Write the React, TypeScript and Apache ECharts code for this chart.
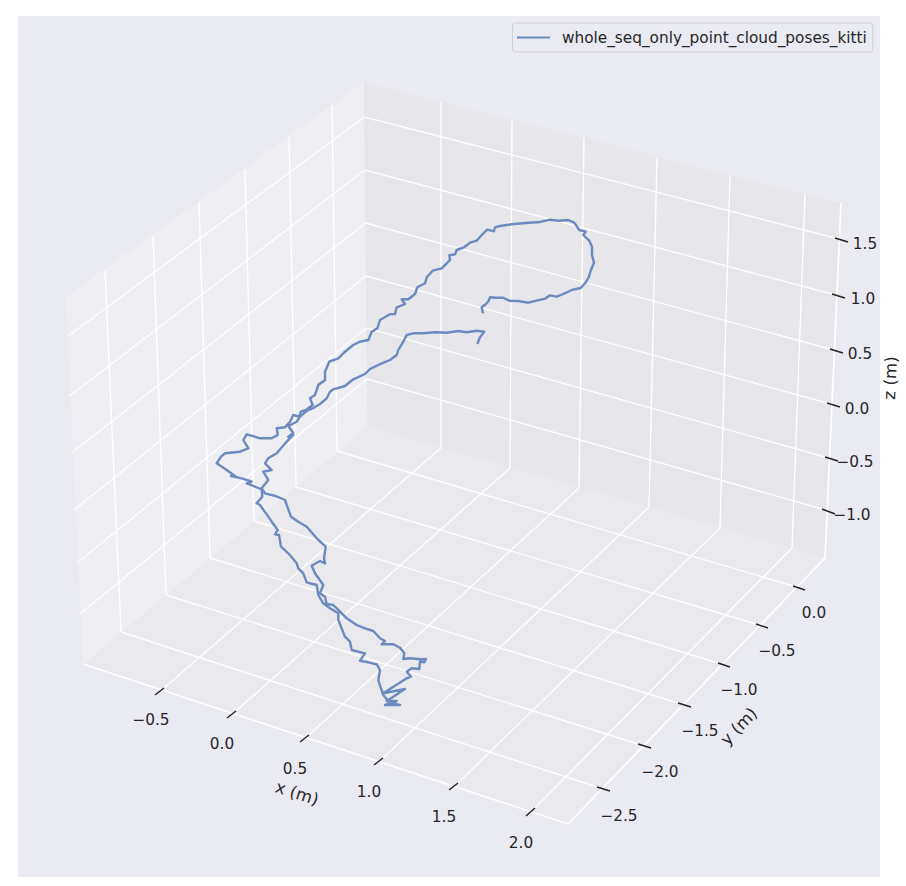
import React, { useEffect, useRef } from "react";
import * as echarts from "echarts";

const seriesName = "whole_seq_only_point_cloud_poses_kitti";

// Box of the 3D view, in the projected plane of the picture
const paneLeft = [[66, 297], [364, 82], [367.5, 427], [83, 664]];
const paneRight = [[364, 82], [841, 203], [825, 558], [367.5, 427]];
const paneFloor = [[83, 664], [367.5, 427], [825, 558], [568, 824]];

// x0, y0, x1, y1
const axisEdges = [
  [83, 664, 568, 824],
  [568, 824, 825, 558],
  [825, 558, 841, 203],
];
const xGrid = [
  [164, 688, 441, 448, 441, 448, 441, 101],
  [236, 711, 510, 468, 510, 468, 512, 120],
  [309, 735, 579, 488, 579, 488, 584, 138],
  [383, 758, 649, 507, 649, 507, 657, 157],
  [458, 783, 720, 528, 720, 528, 730, 175],
  [535, 808, 792, 548, 792, 548, 805, 194],
];
const yGrid = [
  [793, 586, 337, 451, 337, 451, 332, 105],
  [756, 624, 296, 487, 296, 487, 289, 137],
  [718, 663, 254, 521, 254, 521, 245, 169],
  [678, 703, 210, 558, 210, 558, 199, 202],
  [638, 744, 166, 595, 166, 595, 153, 236],
  [597, 787, 121, 632, 121, 632, 105, 271],
];
const zGrid = [
  [68, 336, 364.4, 117, 364.4, 117, 835, 238],
  [69.5, 396, 364.8, 170, 364.8, 170, 832, 294],
  [71.5, 453, 365.4, 223, 365.4, 223, 830, 349],
  [74, 510, 366, 276, 366, 276, 827, 403],
  [77, 563, 366.5, 328, 366.5, 328, 825, 457],
  [80, 614, 367, 379, 367, 379, 822, 509],
];
const xTicks = [
  [155, 695, 164, 688],
  [227, 718, 236, 711],
  [300, 742, 309, 735],
  [374, 765, 383, 758],
  [449, 790, 458, 783],
  [526, 816, 535, 808],
];
const yTicks = [
  [793, 586, 805, 590],
  [756, 624, 768, 628],
  [718, 663, 730, 667],
  [678, 703, 691, 707],
  [638, 744, 651, 748],
  [597, 787, 610, 791],
];
const zTicks = [
  [835, 238, 848, 242],
  [832, 294, 845, 298],
  [830, 349, 843, 353],
  [827, 403, 840, 407],
  [825, 457, 838, 461],
  [822, 509, 835, 514],
];

const tickLabelText = [
  "−0.5", "0.0", "0.5", "1.0", "1.5", "2.0",
  "0.0", "−0.5", "−1.0", "−1.5", "−2.0", "−2.5",
  "1.5", "1.0", "0.5", "0.0", "−0.5", "−1.0",
];
const tickLabelPos = [
  [151, 719.5], [222, 743.5], [295, 768.5], [369, 791.5], [444, 816.5], [521, 842.5],
  [814, 612.5], [777, 650.5], [739, 689.5], [700, 730.5], [660, 771.5], [619, 815.5],
  [865, 243.5], [863, 298.5], [860, 353.5], [857, 408.5], [855, 461.5], [852, 514.5],
];
const axisTitleText = ["x (m)", "y (m)", "z (m)"];
const axisTitlePos = [[297, 793.5], [739, 726.5], [890.5, 378]];
const axisTitleAngle = [-18, 46, 87.5];

// Trajectory
const strandDown = [
  [477.3, 344], [480, 337.3], [484.3, 331.7], [476.7, 330.7], [466.7, 332.3], [458.3, 331], [446.7, 332.7],
  [435, 332.3], [423.3, 333.3], [413.3, 333.3], [406.7, 335], [403.3, 341.7], [398.3, 350], [396.7, 355],
  [390, 360], [381.7, 363.3], [370, 369], [365, 374], [353.3, 379.3], [345, 386], [333.3, 389.3], [330, 391.7],
  [326.7, 398.3], [320, 404], [313.3, 408], [306.7, 411], [300, 416.7], [296.7, 421.7], [288.3, 426],
  [293.3, 433], [288.3, 436.7], [293.3, 435], [286.7, 441.7], [276.7, 453.3], [268.3, 458.3], [265, 463.3],
  [271.7, 470], [263.3, 471.7], [268.3, 480], [261.7, 488.3], [265, 493.3], [275.7, 496], [285, 500],
  [286.7, 505], [291, 516.7], [298.3, 521.7], [306.7, 526.7], [316.7, 538.3], [325.7, 546.7], [324, 558.3],
  [325, 563.3], [320, 561], [311.7, 565.7], [315, 573.3], [323.3, 585], [320, 593.3], [325, 596.7],
  [326.7, 604], [333.3, 605], [340, 611.7], [346.7, 618.3], [356.7, 625], [365, 628.3], [373.3, 631],
  [380, 638.3], [385, 641], [381.7, 644.3], [393.3, 644.3], [400, 647.7], [404.3, 653.3], [403.3, 659],
  [410, 658.3], [420, 659.3], [426, 659], [424.3, 662.3], [420, 661.7], [419.3, 669], [411.7, 668.3],
  [406.7, 671.7], [411, 676.7], [406.7, 678.3], [383.3, 693.3], [405, 689], [393.3, 696.7], [386.7, 701],
  [396.7, 701], [385, 705], [400, 705], [390, 703.3],
];
const strandUp = [
  [383.3, 695], [381, 688.3], [378.3, 680], [380, 670], [376.7, 664.3], [368.3, 662.3], [360, 660.7], [365, 653.3],
  [351.7, 650], [350, 641.7], [345, 636.7], [338.3, 620], [338.3, 613.3], [330, 608.3], [323.3, 603.3],
  [318.3, 595], [316.7, 585], [306.7, 582.3], [303.3, 573.3], [298.3, 568.3], [296.7, 563.3], [288.3, 553.3],
  [281, 546.7], [279, 535], [275, 534.3], [277.7, 530], [271.7, 521.7], [268.3, 516.7], [260, 505],
  [256.7, 503.3], [262.3, 496.7], [261.7, 489.3], [246.7, 483.3], [251.7, 481.7],
  [241.7, 478.3], [231, 476], [236.7, 477.3], [226.7, 470], [216.7, 463.3], [221, 456.7], [225, 453.3],
  [240, 451.7], [248.3, 448.3], [243.3, 440], [246.7, 434.3], [260, 438.3], [271.7, 438.3], [277.7, 435],
  [276.7, 428.3], [285, 427.3], [290, 421.7], [293.3, 415], [299.3, 416.7], [300.7, 411.7], [306, 410],
  [312.7, 405], [310, 398.3], [315, 395], [318.3, 385], [325, 380], [325, 371.7], [329.3, 361.7], [338.3, 358.3],
  [345, 351.7], [353.3, 345], [360, 341.7], [368.3, 340], [371.7, 331.7], [377.3, 328.3], [380, 320],
  [390, 314.3], [395, 314], [396.7, 307.3], [405, 304], [401.7, 299.3], [408.3, 299.3], [415, 294], [417.3, 287.3],
  [425, 283.3], [426.7, 277.3], [432.7, 270.7], [441.7, 268.3], [450, 260], [449.3, 255.3], [455, 254.3],
  [456.7, 250], [464, 247.3], [470, 242.7], [476.7, 240.7], [481.7, 235], [487.3, 229.7], [494, 231.3],
  [495, 227.3], [500, 226], [511.7, 224.3], [528.3, 222.7], [538.3, 222.3], [550, 219.7], [559.3, 220.7],
  [568.3, 220], [574.3, 222.7], [579.3, 230], [585.7, 231.7], [583.3, 235], [589.3, 240.7], [592, 246.7],
  [592, 255], [594, 262.7], [590.7, 270.7], [588.7, 277.3], [585, 283.3], [580.7, 288], [571.7, 290],
  [563.3, 294], [556.7, 296.7], [550, 295.3], [545, 298.7], [536.7, 300.7], [528.3, 302.7], [518.3, 301],
  [509.3, 300.7], [502.7, 297.7], [496.7, 297.7], [490, 297.3], [488.7, 300.7], [486, 304], [481.7, 307.3],
  [483, 313.3],
];

const FONT = "DejaVu Sans";
const INK = "#262626";
const LINE = "#6C8ABD";

const polygonSeries = (pts: number[][], fill: string) => ({
  type: "custom",
  silent: true,
  z: 1,
  clip: false,
  data: pts,
  encode: { x: 0, y: 1 },
  renderItem: (params: any, api: any) => {
    if (params.dataIndex !== 0) return null;
    return {
      type: "polygon",
      shape: { points: pts.map((p) => api.coord(p)) },
      style: { fill, stroke: "none" },
    };
  },
});

const segmentSeries = (rows: number[][], stroke: string, lineWidth: number, z: number) => ({
  type: "custom",
  silent: true,
  z,
  clip: false,
  data: rows,
  encode: { x: [0, 2], y: [1, 3] },
  renderItem: (_: any, api: any) => {
    const a = api.coord([api.value(0), api.value(1)]);
    const b = api.coord([api.value(2), api.value(3)]);
    return {
      type: "line",
      shape: { x1: a[0], y1: a[1], x2: b[0], y2: b[1] },
      style: { stroke, lineWidth, lineCap: "butt" },
    };
  },
});

const gridRows = (rows: number[][]) =>
  rows.flatMap((r) => [r.slice(0, 4), r.slice(4, 8)]);

const textSeries = (
  pos: number[][],
  text: string[],
  fontSize: number,
  angle?: number[],
) => ({
  type: "custom",
  silent: true,
  z: 6,
  clip: false,
  data: pos,
  encode: { x: 0, y: 1 },
  renderItem: (params: any, api: any) => {
    const c = api.coord([api.value(0), api.value(1)]);
    const deg = angle ? angle[params.dataIndex] : 0;
    return {
      type: "text",
      x: c[0],
      y: c[1],
      rotation: (deg * Math.PI) / 180,
      style: {
        text: text[params.dataIndex],
        fill: INK,
        font: `${fontSize}px "${FONT}"`,
        align: "center",
        verticalAlign: "middle",
      },
    };
  },
});

export default function App() {
  const ref = useRef<HTMLDivElement>(null);
  useEffect(() => {
    const chart = echarts.init(ref.current!, undefined, { renderer: "svg" });
    chart.setOption({
      animation: false,
      backgroundColor: "#ffffff",
      grid: {
        left: 18,
        top: 16,
        width: 862,
        height: 861,
        show: true,
        backgroundColor: "#EAEAF2",
        borderWidth: 0,
      },
      xAxis: { type: "value", min: 18, max: 880, show: false },
      yAxis: { type: "value", min: 16, max: 877, inverse: true, show: false },
      legend: {
        data: [{ name: seriesName, icon: "rect" }],
        left: 512.5,
        top: 23,
        padding: [7, 6, 7, 4.5],
        itemWidth: 33,
        itemHeight: 2,
        itemGap: 0,
        borderColor: "#CFCFD4",
        borderWidth: 1,
        borderRadius: 3,
        backgroundColor: "rgba(234,234,242,0.8)",
        textStyle: { color: INK, fontFamily: FONT, fontSize: 15.3, padding: [0, 0, 0, 7] },
      },
      series: [
        polygonSeries(paneLeft, "#EEEEF3"),
        polygonSeries(paneRight, "#E6E6EB"),
        polygonSeries(paneFloor, "#EAEAEE"),
        segmentSeries(gridRows(xGrid), "#FFFFFF", 1.35, 2),
        segmentSeries(gridRows(yGrid), "#FFFFFF", 1.35, 2),
        segmentSeries(gridRows(zGrid), "#FFFFFF", 1.35, 2),
        segmentSeries(axisEdges, "#FFFFFF", 1.7, 3),
        segmentSeries(xTicks, INK, 1.5, 4),
        segmentSeries(yTicks, INK, 1.5, 4),
        segmentSeries(zTicks, INK, 1.5, 4),
        {
          name: seriesName,
          type: "line",
          z: 5,
          clip: false,
          symbol: "none",
          data: [...strandDown, ...strandUp],
          lineStyle: { color: LINE, width: 2.4, join: "round" },
          itemStyle: { color: LINE },
        },
        textSeries(tickLabelPos, tickLabelText, 15.3),
        textSeries(axisTitlePos, axisTitleText, 16.7, axisTitleAngle),
      ],
    });
    return () => chart.dispose();
  }, []);
  return (
    <div
      ref={ref}
      style={{ position: "absolute", left: 0, top: 0, width: 906, height: 886 }}
    />
  );
}
